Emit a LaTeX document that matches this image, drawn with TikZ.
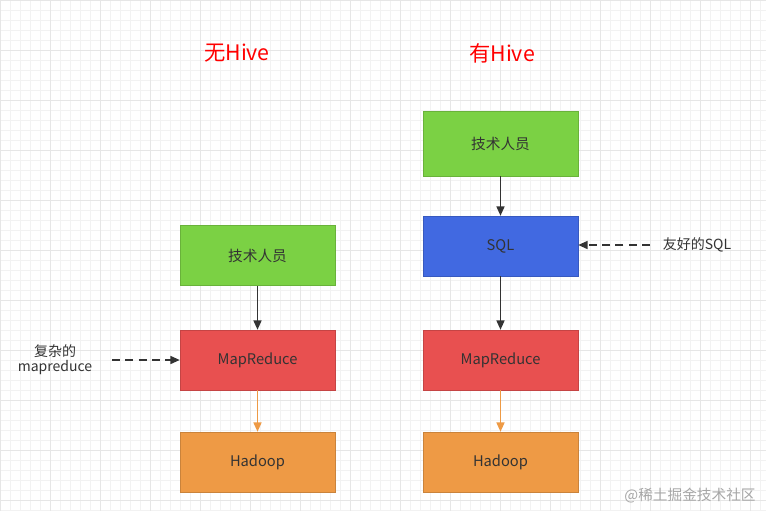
\documentclass[tikz,border=0pt]{standalone}
\usepackage{fontspec}
\setmainfont{Noto Sans CJK SC}
\usetikzlibrary{arrows.meta}
\definecolor{gA}{HTML}{7BD144}
\definecolor{rA}{HTML}{E85050}
\definecolor{oA}{HTML}{EE9A45}
\definecolor{bA}{HTML}{4169E1}
\definecolor{tx}{HTML}{333333}
\definecolor{gr1}{HTML}{F2F2F2}
\definecolor{gr2}{HTML}{E6E6E6}
\begin{document}
\begin{tikzpicture}[x=0.75pt,y=-0.75pt,
  boxs/.style={draw=#1!85!black,fill=#1,minimum width=116.25pt,minimum height=45pt,inner sep=0pt,text=tx,font=\fontsize{11}{13}\selectfont},
  arr/.style={-{Triangle[length=7pt,width=6pt]},line width=1.2pt,draw=tx},
  lab/.style={text=tx,font=\fontsize{10.5}{13}\selectfont,align=center}]
\fill[white] (0,0) rectangle (766,511);
\useasboundingbox (0,0) rectangle (766,511);
\foreach \i in {0,10,...,760} \draw[gr1,line width=0.5pt] (\i,0) -- (\i,511);
\foreach \i in {0,10,...,510} \draw[gr1,line width=0.5pt] (0,\i) -- (766,\i);
\foreach \i in {0,50,...,750} \draw[gr2,line width=0.6pt] (\i,0) -- (\i,511);
\foreach \i in {0,50,...,500} \draw[gr2,line width=0.6pt] (0,\i) -- (766,\i);
\node[text=red,font=\fontsize{16}{18}\selectfont] (t1) at (237,53) {无Hive};
\node[text=red,font=\fontsize{16}{18}\selectfont] (t2) at (502,53) {有Hive};
\node[boxs=gA] (lg) at (257.5,255.5) {技术人员};
\node[boxs=rA] (lm) at (257.5,360) {MapReduce};
\node[boxs=oA] (lh) at (257.5,462) {Hadoop};
\node[boxs=gA,minimum height=48.75pt] (rg) at (500.5,143.5) {技术人员};
\node[boxs=bA] (rs) at (500.5,246) {SQL};
\node[boxs=rA] (rm) at (500.5,360) {MapReduce};
\node[boxs=oA] (rh) at (500.5,462) {Hadoop};
\draw[arr] (lg) -- (lm);
\draw[arr,draw=oA] (lm) -- (lh);
\draw[arr] (rg) -- (rs);
\draw[arr] (rs) -- (rm);
\draw[arr,draw=oA] (rm) -- (rh);
\node[lab] (l1) at (55,360) {复杂的\\[-2pt]mapreduce};
\coordinate (c1) at (112,360);
\draw[arr,dashed,dash pattern=on 6pt off 4pt] (c1) -- (lm.west);
\node[lab] (l2) at (697,245) {友好的SQL};
\coordinate (c2) at (650,245);
\draw[arr,dashed,dash pattern=on 6pt off 4pt] (c2) -- (rs.east |- c2);
\node[text=gray!70,font=\fontsize{11}{13}\selectfont] (wm) at (690,496) {@稀土掘金技术社区};
\end{tikzpicture}
\end{document}
